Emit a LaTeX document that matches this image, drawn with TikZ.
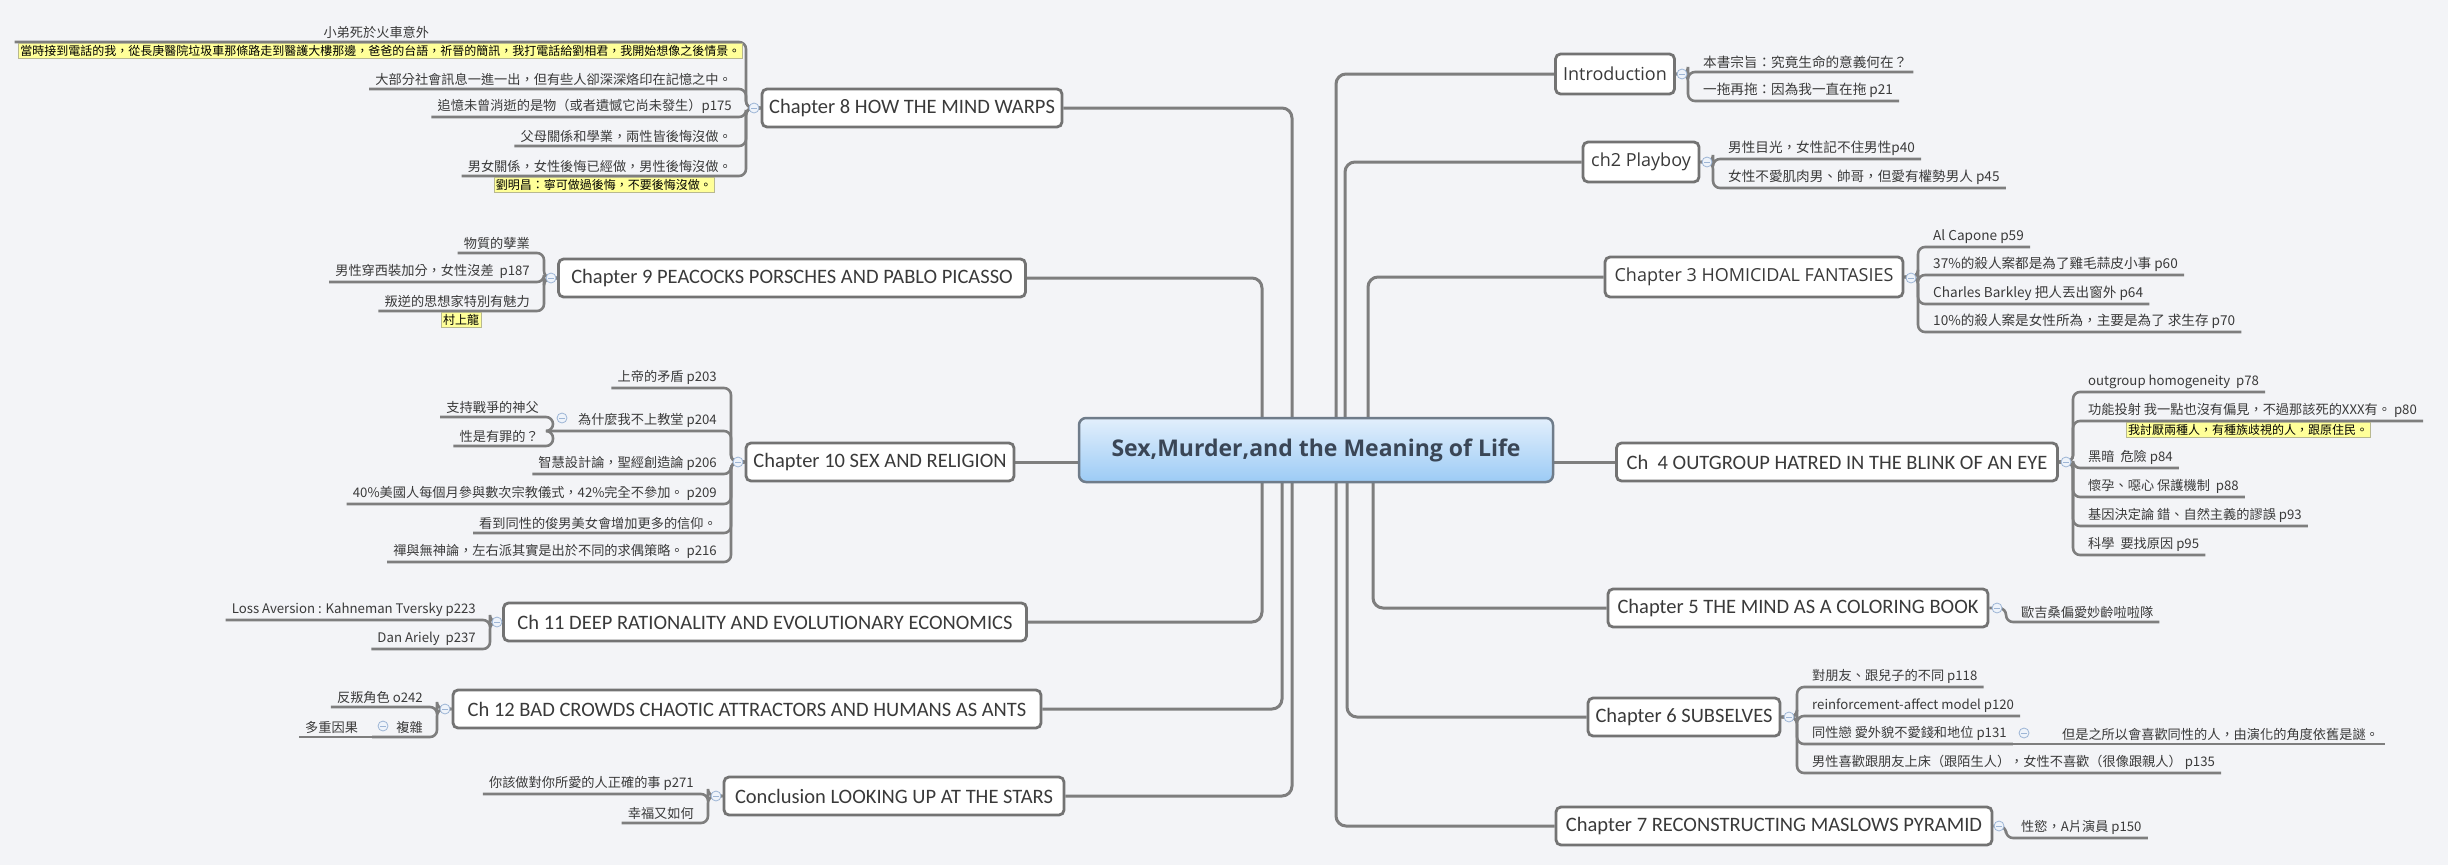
\documentclass[tikz,border=0pt]{standalone}
\usepackage{fontspec}
\setmainfont{Carlito}
\newfontfamily\cjk{Noto Sans CJK TC}
\newfontfamily\osans{Open Sans}
\pgfdeclarelayer{lines}
\pgfsetlayers{lines,main}
\definecolor{bgc}{HTML}{F3F4F7}
\definecolor{linec}{HTML}{7E7E7E}
\definecolor{boxc}{HTML}{737373}
\definecolor{txt}{HTML}{3A3A3A}
\definecolor{roottxt}{HTML}{3A4656}
\definecolor{rootb}{HTML}{6F7C8A}
\definecolor{gtop}{HTML}{E2EFFC}
\definecolor{gbot}{HTML}{9CCBF5}
\definecolor{lblf}{HTML}{FFFF99}
\definecolor{lblc}{HTML}{B8B890}
\definecolor{togc}{HTML}{9DB5D5}
\definecolor{togf}{HTML}{EEF3FA}
\begin{document}
\begin{tikzpicture}[x=1pt,y=-1pt,
  rootbox/.style={draw=rootb, line width=2.5pt, rounded corners=7pt, top color=gtop, bottom color=gbot,
    minimum width=474pt, minimum height=64pt, text=roottxt, font=\osans\bfseries\fontsize{23}{28}\selectfont},
  chap/.style={draw=boxc, line width=2.8pt, rounded corners=5pt, fill=white, text=txt,
    font=\fontsize{20.5}{24}\selectfont, minimum height=38pt, inner xsep=6pt, inner ysep=0pt},
  chapO/.style={chap, font=\osans\fontsize{18}{22}\selectfont},
  subL/.style={font=\cjk\fontsize{13.2}{15}\selectfont, text=txt, inner xsep=0pt, inner ysep=3.5pt,
    anchor=south east, execute at begin node={\hspace*{6pt}}, execute at end node={\hspace*{14pt}}},
  subR/.style={font=\cjk\fontsize{13.2}{15}\selectfont, text=txt, inner xsep=0pt, inner ysep=3.5pt,
    anchor=south west, execute at begin node={\hspace*{15pt}}, execute at end node={\hspace*{6pt}}},
  subRb/.style={subR, font=\cjk\fontsize{13.6}{15}\selectfont},
  lbl/.style={draw=lblc, line width=0.6pt, fill=lblf, font=\cjk\fontsize{12}{14}\selectfont, text=black,
    inner xsep=2pt, inner ysep=2pt, anchor=north, yshift=-1.2pt},
  conn/.style={draw=linec, line width=3pt, rounded corners=10pt},
  uln/.style={draw=linec, line width=2.6pt, rounded corners=7pt},
  tog/.style={circle, draw=togc, fill=togf, line width=0.8pt, minimum size=10pt, inner sep=0pt,
    path picture={\draw[togc, line width=0.9pt] ([xshift=-2.6pt]path picture bounding box.center) -- ([xshift=2.6pt]path picture bounding box.center);}}
]
\useasboundingbox (0,0) rectangle (2448,865);
\begin{pgfonlayer}{lines}
\fill[bgc] (0,0) rectangle (2448,865);
\end{pgfonlayer}

% root
\node[rootbox] (root) at (1316,450) {Sex,Murder,and the Meaning of Life};

% left chapters
\node[chap, minimum width=300pt] (c8) at (912,108) {Chapter 8 HOW THE MIND WARPS};
\node[chap, minimum width=467pt] (c9) at (792,278) {Chapter 9 PEACOCKS PORSCHES AND PABLO PICASSO};
\node[chap, minimum width=268pt] (c10) at (880,462) {Chapter 10 SEX AND RELIGION};
\node[chap, minimum width=523pt] (c11) at (765,622) {Ch 11 DEEP RATIONALITY AND EVOLUTIONARY ECONOMICS};
\node[chap, minimum width=588pt] (c12) at (747,709) {Ch 12 BAD CROWDS CHAOTIC ATTRACTORS AND HUMANS AS ANTS};
\node[chap, minimum width=340pt] (cc) at (894,796) {Conclusion LOOKING UP AT THE STARS};

% right chapters
\node[chapO, minimum width=119pt, minimum height=40pt] (ci) at (1615,74) {Introduction};
\node[chapO, minimum width=116pt, minimum height=40pt] (c2) at (1641,162) {ch2 Playboy};
\node[chapO, minimum width=298pt, minimum height=40pt] (c3) at (1754,277) {Chapter 3 HOMICIDAL FANTASIES};
\node[chap, minimum width=441pt] (c4) at (1837,462) {Ch\ \ 4 OUTGROUP HATRED IN THE BLINK OF AN EYE};
\node[chap, minimum width=380pt] (c5) at (1798,608) {Chapter 5 THE MIND AS A COLORING BOOK};
\node[chap, minimum width=192pt] (c6) at (1684,717) {Chapter 6 SUBSELVES};
\node[chap, minimum width=436pt] (c7) at (1774,826) {Chapter 7 RECONSTRUCTING MASLOWS PYRAMID};

% chapter 8 children
\node[subL, minimum width=731pt] (c8a) at (746,42) {小弟死於火車意外};
\node[lbl] (l8a) at (c8a.south) {當時接到電話的我，從長庚醫院垃圾車那條路走到醫護大樓那邊，爸爸的台語，祈晉的簡訊，我打電話給劉相君，我開始想像之後情景。};
\node[subL] (c8b) at (746,89) {大部分社會訊息一進一出，但有些人卻深深烙印在記憶之中。};
\node[subL] (c8c) at (746,117) {追憶未曾消逝的是物（或者遺憾它尚未發生）p175};
\node[subL] (c8d) at (746,146) {父母關係和學業，兩性皆後悔沒做。};
\node[subL] (c8e) at (746,176) {男女關係，女性後悔已經做，男性後悔沒做。};
\node[lbl] (l8e) at (c8e.south) {劉明昌：寧可做過後悔，不要後悔沒做。};

% chapter 9 children
\node[subL] (c9a) at (544,253) {物質的孽業};
\node[subL] (c9b) at (544,282) {男性穿西裝加分，女性沒差\ \ p187};
\node[subL] (c9c) at (544,311) {叛逆的思想家特別有魅力};
\node[lbl] (l9c) at (c9c.south) {村上龍};

% chapter 10 children
\node[subL] (c10a) at (731,388) {上帝的矛盾 p203};
\node[subL, execute at begin node={\hspace*{20pt}}] (c10b) at (731,431) {為什麼我不上教堂 p204};
\node[subL] (c10b1) at (553,417) {支持戰爭的神父};
\node[subL] (c10b2) at (553,446) {性是有罪的？};
\node[subL] (c10c) at (731,474) {智慧設計論，聖經創造論 p206};
\node[subL] (c10d) at (731,504) {40\%美國人每個月參與數次宗教儀式，42\%完全不參加。 p209};
\node[subL] (c10e) at (731,533) {看到同性的俊男美女會增加更多的信仰。};
\node[subL] (c10f) at (731,562) {禪與無神論，左右派其實是出於不同的求偶策略。 p216};

% ch 11 children
\node[subL] (c11a) at (490,620) {Loss Aversion : Kahneman Tversky p223};
\node[subL] (c11b) at (490,649) {Dan Ariely\ \ p237};

% ch 12 children
\node[subL] (c12a) at (437,707) {反叛角色 o242};
\node[subL, execute at begin node={\hspace*{18pt}}] (c12b) at (437,737) {複雜};
\node[subL] (c12b1) at (c12b.south west) {多重因果};

% conclusion children
\node[subL] (cca) at (708,794) {你該做對你所愛的人正確的事 p271};
\node[subL] (ccb) at (708,823) {幸福又如何};

% introduction children
\node[subRb] (cia) at (1688,72) {本書宗旨：究竟生命的意義何在？};
\node[subRb] (cib) at (1688,101) {一拖再拖：因為我一直在拖 p21};

% ch2 children
\node[subRb] (c2a) at (1713,159) {男性目光，女性記不住男性p40};
\node[subRb] (c2b) at (1713,188) {女性不愛肌肉男、帥哥，但愛有權勢男人 p45};

% ch3 children
\node[subRb] (c3a) at (1918,247) {Al Capone p59};
\node[subRb] (c3b) at (1918,275) {37\%的殺人案都是為了雞毛蒜皮小事 p60};
\node[subRb] (c3c) at (1918,304) {Charles Barkley 把人丟出窗外 p64};
\node[subRb] (c3d) at (1918,332) {10\%的殺人案是女性所為，主要是為了 求生存 p70};

% ch4 children
\node[subR] (c4a) at (2073,392) {outgroup homogeneity\ \ p78};
\node[subR] (c4b) at (2073,421) {功能投射 我一點也沒有偏見，不過那該死的XXX有。 p80};
\node[lbl] (l4b) at (c4b.south) {我討厭兩種人，有種族歧視的人，跟原住民。};
\node[subR] (c4c) at (2073,468) {黑暗\ \ 危險 p84};
\node[subR] (c4d) at (2073,497) {懷孕、噁心 保護機制\ \ p88};
\node[subR] (c4e) at (2073,526) {基因決定論 錯、自然主義的謬誤 p93};
\node[subR] (c4f) at (2073,555) {科學\ \ 要找原因 p95};

% ch5 child
\node[subR] (c5a) at (2006,622) {歐吉桑偏愛妙齡啦啦隊};

% ch6 children
\node[subR] (c6a) at (1797,687) {對朋友、跟兒子的不同 p118};
\node[subR] (c6b) at (1797,716) {reinforcement-affect model p120};
\node[subR] (c6c) at (1797,744) {同性戀 愛外貌不愛錢和地位 p131};
\node[subR, execute at begin node={\hspace*{34pt}}] (c6c1) at (c6c.south east) {但是之所以會喜歡同性的人，由演化的角度依舊是謎。};
\node[subR] (c6d) at (1797,773) {男性喜歡跟朋友上床（跟陌生人），女性不喜歡（很像跟親人） p135};

% ch7 child
\node[subR] (c7a) at (2006,838) {性慾，A片演員 p150};

% root attachment points
\coordinate (rt8) at (1292,418);
\coordinate (rt9) at (1262,418);
\coordinate (rb11) at (1262,482);
\coordinate (rb12) at (1282,482);
\coordinate (rbc) at (1292,482);
\coordinate (rti) at (1336,418);
\coordinate (rt2) at (1345,418);
\coordinate (rt3) at (1368,418);
\coordinate (rb5) at (1373,482);
\coordinate (rb6) at (1347,482);
\coordinate (rb7) at (1336,482);

\begin{pgfonlayer}{lines}
% main branches
\draw[conn] (c8.east) -| (rt8);
\draw[conn] (c9.east) -| (rt9);
\draw[conn] (c10.east) -- (c10.east -| root.west);
\draw[conn] (c11.east) -| (rb11);
\draw[conn] (c12.east) -| (rb12);
\draw[conn] (cc.east) -| (rbc);
\draw[conn] (ci.west) -| (rti);
\draw[conn] (c2.west) -| (rt2);
\draw[conn] (c3.west) -| (rt3);
\draw[conn] (c4.west) -- (c4.west -| root.east);
\draw[conn] (c5.west) -| (rb5);
\draw[conn] (c6.west) -| (rb6);
\draw[conn] (c7.west) -| (rb7);
% left sub branches
\foreach \k in {c8a,c8b,c8c,c8d,c8e} \draw[uln] (c8.west) -| (\k.south east) -- (\k.south west);
\foreach \k in {c9a,c9b,c9c} \draw[uln] (c9.west) -| (\k.south east) -- (\k.south west);
\foreach \k in {c10a,c10b,c10c,c10d,c10e,c10f} \draw[uln] (c10.west) -| (\k.south east) -- (\k.south west);
\foreach \k in {c10b1,c10b2} \draw[uln] (c10b.south west) -| (\k.south east) -- (\k.south west);
\foreach \k in {c11a,c11b} \draw[uln] (c11.west) -| (\k.south east) -- (\k.south west);
\foreach \k in {c12a,c12b} \draw[uln] (c12.west) -| (\k.south east) -- (\k.south west);
\draw[uln] (c12b.south west) -- (c12b1.south west);
\foreach \k in {cca,ccb} \draw[uln] (cc.west) -| (\k.south east) -- (\k.south west);
% right sub branches
\foreach \k in {cia,cib} \draw[uln] (ci.east) -| (\k.south west) -- (\k.south east);
\foreach \k in {c2a,c2b} \draw[uln] (c2.east) -| (\k.south west) -- (\k.south east);
\foreach \k in {c3a,c3b,c3c,c3d} \draw[uln] (c3.east) -| (\k.south west) -- (\k.south east);
\foreach \k in {c4a,c4b,c4c,c4d,c4e,c4f} \draw[uln] (c4.east) -| (\k.south west) -- (\k.south east);
\draw[uln] (c5.east) -| (c5a.south west) -- (c5a.south east);
\foreach \k in {c6a,c6b,c6c,c6d} \draw[uln] (c6.east) -| (\k.south west) -- (\k.south east);
\draw[uln] (c6c.south east) -- (c6c1.south east);
\draw[uln] (c7.east) -| (c7a.south west) -- (c7a.south east);
\end{pgfonlayer}

% toggles
\node[tog] (t8) at (754,108) {};
\node[tog] (t9) at (551,278) {};
\node[tog] (t10) at (738,462) {};
\node[tog] (t10b) at (562,418) {};
\node[tog] (t11) at (497,622) {};
\node[tog] (t12) at (445,709) {};
\node[tog] (t12b) at (383,726) {};
\node[tog] (tcc) at (716,796) {};
\node[tog] (ti) at (1682,74) {};
\node[tog] (t2) at (1707,162) {};
\node[tog] (t3) at (1911,278) {};
\node[tog] (t4) at (2066,462) {};
\node[tog] (t5) at (1997,608) {};
\node[tog] (t6) at (1789,717) {};
\node[tog] (t6c) at (2024,733) {};
\node[tog] (t7) at (1999,826) {};
\end{tikzpicture}
\end{document}
